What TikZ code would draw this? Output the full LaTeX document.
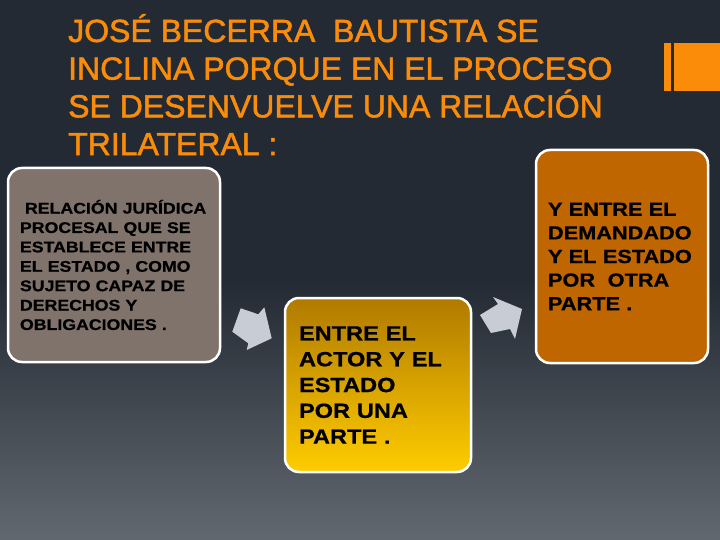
\documentclass[tikz,border=0pt]{standalone}
\usepackage{fontspec}
\setmainfont{Liberation Sans}
\newfontfamily\titlefont[FakeBold=1.6]{Liberation Sans}
\newfontfamily\boxfont[FakeStretch=1.15,FakeBold=0.8]{Liberation Sans}
\definecolor{bgtop}{RGB}{35,42,51}
\definecolor{bgbot}{RGB}{97,104,112}
\definecolor{titleor}{RGB}{250,140,10}
\definecolor{boxone}{RGB}{128,115,108}
\definecolor{boxtwotop}{RGB}{176,122,0}
\definecolor{boxtwobot}{RGB}{255,204,0}
\definecolor{boxthree}{RGB}{192,102,0}
\definecolor{arrowgray}{RGB}{200,204,212}
\begin{document}
\begin{tikzpicture}[x=1pt,y=-1pt,
  titletext/.style={font=\titlefont\fontsize{32}{37.7}\selectfont, text=titleor, align=left, inner sep=0pt},
  boxstyle/.style={draw=white, line width=2.5pt, rounded corners=14pt, align=left, text=black, inner ysep=4pt},
  blockarrow/.style={fill=arrowgray}]
\useasboundingbox (0,0) rectangle (720,540);
\fill[bgtop] (0,0) rectangle (720,280);
\shade[top color=bgtop,bottom color=bgbot] (0,279.5) rectangle (720,540);

\node[titletext, anchor=north west] (title) at (68,14) {JOSÉ BECERRA\ \ BAUTISTA SE\\INCLINA PORQUE EN EL PROCESO\\SE DESENVUELVE UNA RELACIÓN\\TRILATERAL :};

\fill[titleor] (664,43) rectangle (671,91);
\fill[titleor] (674,43) rectangle (720,91);

\node[boxstyle, fill=boxone, text width=188pt, inner xsep=12pt, minimum height=194pt,
  font=\boxfont\bfseries\fontsize{15.4}{19.4}\selectfont] (b1) at (114,265)
  {\hspace*{5pt}RELACIÓN JURÍDICA\\PROCESAL QUE SE\\ESTABLECE ENTRE\\EL ESTADO , COMO\\SUJETO CAPAZ DE\\DERECHOS Y\\OBLIGACIONES .};

\node[boxstyle, top color=boxtwotop, bottom color=boxtwobot, text width=158pt, inner xsep=14pt, minimum height=174pt,
  font=\boxfont\bfseries\fontsize{20.5}{25.8}\selectfont] (b2) at (378,385)
  {ENTRE EL\\ACTOR Y EL\\ESTADO\\POR UNA\\PARTE .};

\node[boxstyle, fill=boxthree, text width=148pt, inner xsep=12pt, minimum height=213pt,
  font=\boxfont\bfseries\fontsize{18.9}{23.6}\selectfont] (b3) at (622,256.5)
  {Y ENTRE EL\\DEMANDADO\\Y EL ESTADO\\POR\ \ OTRA\\PARTE .};

\fill[blockarrow] (240.7,308.3) -- (258.3,314.3) -- (264.3,307.3) -- (271.7,338.3) -- (246.7,350) -- (248.3,343.3) -- (232.3,331.7) -- cycle;
\fill[blockarrow] (493,297) -- (522,309) -- (515,339) -- (510,329) -- (491,333) -- (480,315) -- (498,304) -- cycle;
\end{tikzpicture}
\end{document}
